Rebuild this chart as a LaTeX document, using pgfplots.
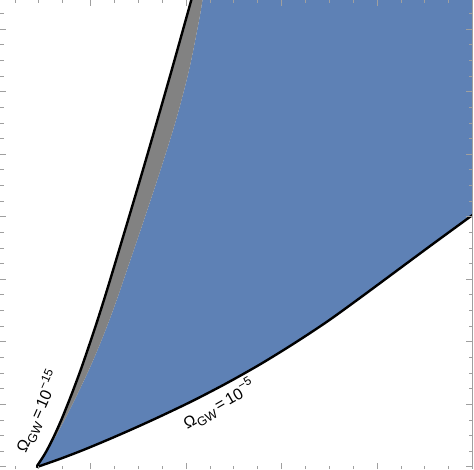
\documentclass[border=0pt]{standalone}
\usepackage{pgfplots}
\pgfplotsset{compat=1.18}
\usepackage{fontspec}
\setmainfont{Liberation Sans}
\definecolor{mblue}{RGB}{94,129,181}
\definecolor{mgray}{RGB}{130,130,130}
\newcommand{\omgw}[1]{Ω\raisebox{-0.28em}{\fontsize{12.5}{14}\selectfont GW}\,=\,10\raisebox{0.5em}{\fontsize{12}{14}\selectfont −#1}}
\begin{document}
\begin{tikzpicture}
\begin{axis}[
  x=1pt, y=1pt, xmin=0, xmax=472, ymin=0, ymax=469,
  scale only axis, axis on top,
  axis line style={draw=none},
  xtick={90.5,186,281.7,377},
  minor xtick={15,38.6,62.5,114.4,138.3,162.1,209.9,233.7,257.6,305.4,329.2,353.1,400.9,424.7,448.6},
  ytick={2.2,64.7,127.2,189.7,252.2,314.7,377.3,439.7},
  minor ytick={17.8,33.5,49.1,80.3,95.9,111.6,142.8,158.5,174.1,205.3,221,236.6,267.8,283.5,299.1,330.3,346,361.6,392.9,408.5,424.1,455.3},
  xticklabel={}, yticklabel={},
  tick align=inside,
  major tick length=6pt, minor tick length=3.5pt,
  every tick/.style={color=gray!75, line width=0.8pt},
]
% blue region: lower curve, beyond the frame, then blue edge back down
\addplot[fill=mblue, draw=none, smooth, tension=0.5] coordinates {
 (37,2) (60,10.1) (83,18.9) (108,29.3) (133,40.2) (160,52.5) (193,68.3) (227,86) (260,104.6) (293,124.9) (327,147.3) (360,171.1) (393,195.5) (430,222.9) (472,253.6) (495,270.4)
 (500,510) (209.5,510)
 (207.8,500) (202.5,469) (199.3,450) (189.3,400) (176.3,350) (160.8,300) (144.3,250) (127.3,200) (118.8,175) (109.8,150) (100,125) (89.3,100) (77.5,75) (65,50) (54.2,30) (45.2,15) (37,3)
} -- cycle;
% gray sliver between the black line and the blue edge
\addplot[fill=mgray, draw=none, smooth, tension=0.5] coordinates {
 (37,3) (44.8,15) (52.7,30) (61.7,50) (71.7,75) (81,100) (89.6,125) (97.9,150) (105.8,175) (113.4,200) (128.4,250) (143.2,300) (157.7,350) (172,400) (186,450) (191.3,469) (200,500)
 (207.8,500) (202.5,469) (199.3,450) (189.3,400) (176.3,350) (160.8,300) (144.3,250) (127.3,200) (118.8,175) (109.8,150) (100,125) (89.3,100) (77.5,75) (65,50) (54.2,30) (45.2,15) (37,3)
} -- cycle;
% Omega_GW = 1e-15 line
\addplot[black, line width=2.4pt, line cap=round, smooth, tension=0.5] coordinates {
 (37,3) (44.8,15) (52.7,30) (61.7,50) (71.7,75) (81,100) (89.6,125) (97.9,150) (105.8,175) (113.4,200) (128.4,250) (143.2,300) (157.7,350) (172,400) (186,450) (191.3,469) (200,500)
};
% Omega_GW = 1e-5 line
\addplot[black, line width=2.4pt, line cap=round, smooth, tension=0.5] coordinates {
 (37,2) (60,10.1) (83,18.9) (108,29.3) (133,40.2) (160,52.5) (193,68.3) (227,86) (260,104.6) (293,124.9) (327,147.3) (360,171.1) (393,195.5) (430,222.9) (472,253.6) (495,270.4)
};
\node[rotate=66, font=\fontsize{16}{19}\selectfont] at (axis cs:38,57) {\omgw{15}};
\node[rotate=30, font=\fontsize{16}{19}\selectfont] at (axis cs:219,64) {\omgw{5}};
\end{axis}
\draw[gray!75, line width=1pt] (current axis.south east) -- (current axis.north east);
\pgfresetboundingbox
\path (current axis.south west) rectangle ([xshift=2pt]current axis.north east);
\end{tikzpicture}
\end{document}
